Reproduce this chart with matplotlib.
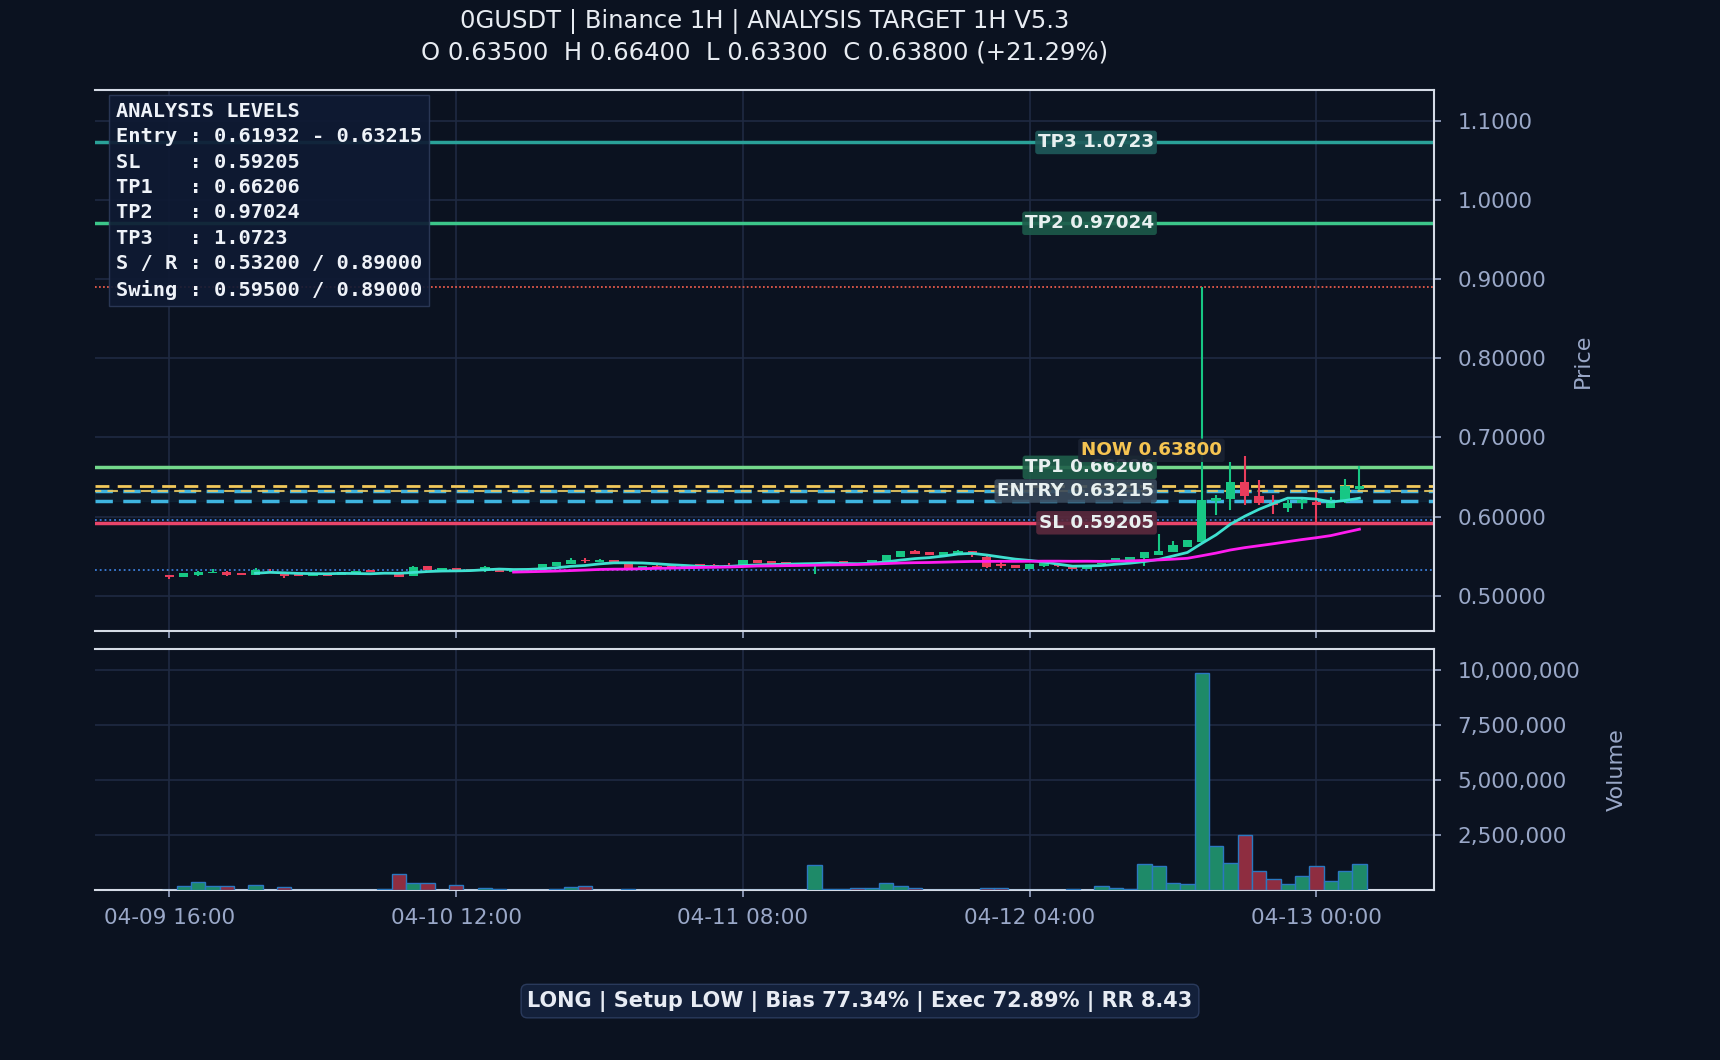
import numpy as np
import matplotlib
matplotlib.use('Agg')
import matplotlib.pyplot as plt
import pandas as pd
from matplotlib.ticker import FuncFormatter, MultipleLocator, FixedLocator

# --- data (hourly candles) ---
opens = [0.5262, 0.5240, 0.5262, 0.5287, 0.5300, 0.5287, 0.5266, 0.5325, 0.5275, 0.5275,
         0.5250, 0.5262, 0.5262, 0.5283, 0.5320, 0.5300, 0.5290, 0.5250, 0.5375, 0.5325,
         0.5345, 0.5340, 0.5320, 0.5330, 0.5305, 0.5320, 0.5350, 0.5375, 0.5400, 0.5447,
         0.5425, 0.5447, 0.5410, 0.5349, 0.5380, 0.5370, 0.5365, 0.5400, 0.5392, 0.5380,
         0.5388, 0.5451, 0.5438, 0.5425, 0.5400, 0.5390, 0.5400, 0.5434, 0.5395, 0.5409,
         0.5438, 0.5493, 0.5566, 0.5550, 0.5510, 0.5530, 0.5565, 0.5494, 0.5395, 0.5390,
         0.5336, 0.5370, 0.5390, 0.5370, 0.5336, 0.5400, 0.5430, 0.5425, 0.5482, 0.5514,
         0.5556, 0.5620, 0.5682, 0.6200, 0.6221, 0.6431, 0.6258, 0.6175, 0.6103, 0.6170,
         0.6180, 0.6111, 0.6180, 0.6350]
highs = [0.5265, 0.5290, 0.5312, 0.5338, 0.5317, 0.5290, 0.5350, 0.5340, 0.5277, 0.5277,
         0.5285, 0.5265, 0.5305, 0.5312, 0.5325, 0.5305, 0.5292, 0.5375, 0.5380, 0.5348,
         0.5355, 0.5343, 0.5380, 0.5335, 0.5325, 0.5345, 0.5400, 0.5428, 0.5480, 0.5475,
         0.5463, 0.5450, 0.5412, 0.5378, 0.5400, 0.5375, 0.5372, 0.5402, 0.5395, 0.5413,
         0.5453, 0.5453, 0.5440, 0.5428, 0.5408, 0.5405, 0.5428, 0.5437, 0.5397, 0.5453,
         0.5516, 0.5566, 0.5580, 0.5553, 0.5553, 0.5580, 0.5567, 0.5496, 0.5430, 0.5392,
         0.5397, 0.5412, 0.5392, 0.5372, 0.5392, 0.5412, 0.5473, 0.5492, 0.5552, 0.5775,
         0.5690, 0.5702, 0.8900, 0.6270, 0.6694, 0.6760, 0.6456, 0.6270, 0.6205, 0.6240,
         0.6304, 0.6240, 0.6477, 0.6640]
lows = [0.5215, 0.5238, 0.5254, 0.5285, 0.5254, 0.5264, 0.5264, 0.5315, 0.5220, 0.5248,
        0.5248, 0.5245, 0.5260, 0.5280, 0.5298, 0.5290, 0.5230, 0.5248, 0.5328, 0.5322,
        0.5322, 0.5322, 0.5300, 0.5300, 0.5300, 0.5315, 0.5348, 0.5372, 0.5398, 0.5413,
        0.5423, 0.5411, 0.5343, 0.5347, 0.5353, 0.5360, 0.5360, 0.5373, 0.5373, 0.5373,
        0.5386, 0.5407, 0.5398, 0.5398, 0.5398, 0.5280, 0.5398, 0.5403, 0.5388, 0.5407,
        0.5436, 0.5491, 0.5528, 0.5508, 0.5508, 0.5528, 0.5490, 0.5346, 0.5346, 0.5348,
        0.5334, 0.5368, 0.5368, 0.5334, 0.5334, 0.5398, 0.5428, 0.5423, 0.5380, 0.5512,
        0.5554, 0.5618, 0.5660, 0.6020, 0.6085, 0.6149, 0.6141, 0.6030, 0.6060, 0.6100,
        0.5920, 0.6105, 0.6170, 0.6330]
closes = [0.5240, 0.5287, 0.5304, 0.5300, 0.5262, 0.5266, 0.5325, 0.5320, 0.5245, 0.5250,
          0.5283, 0.5250, 0.5300, 0.5310, 0.5300, 0.5295, 0.5240, 0.5360, 0.5330, 0.5345,
          0.5325, 0.5325, 0.5363, 0.5305, 0.5320, 0.5340, 0.5395, 0.5425, 0.5451, 0.5434,
          0.5447, 0.5413, 0.5345, 0.5375, 0.5355, 0.5365, 0.5370, 0.5375, 0.5375, 0.5375,
          0.5451, 0.5409, 0.5400, 0.5400, 0.5405, 0.5400, 0.5425, 0.5405, 0.5390, 0.5451,
          0.5514, 0.5564, 0.5530, 0.5510, 0.5550, 0.5565, 0.5510, 0.5367, 0.5380, 0.5350,
          0.5395, 0.5410, 0.5370, 0.5336, 0.5390, 0.5410, 0.5471, 0.5490, 0.5550, 0.5560,
          0.5640, 0.5700, 0.6208, 0.6230, 0.6431, 0.6254, 0.6174, 0.6150, 0.6174, 0.6205,
          0.6150, 0.6174, 0.6384, 0.6380]
# volume in millions
volumes_m = [0.01, 0.18, 0.36, 0.18, 0.18, 0.01, 0.24, 0.02, 0.14, 0.01,
             0.005, 0.005, 0.005, 0.005, 0.01, 0.05, 0.73, 0.32, 0.32, 0.005,
             0.23, 0.01, 0.09, 0.05, 0.01, 0.005, 0.02, 0.05, 0.14, 0.18,
             0.005, 0.01, 0.05, 0.01, 0.01, 0.01, 0.01, 0.01, 0.01, 0.01,
             0.02, 0.02, 0.02, 0.005, 0.005, 1.14, 0.03, 0.03, 0.09, 0.09,
             0.32, 0.20, 0.09, 0.005, 0.02, 0.02, 0.01, 0.09, 0.09, 0.005,
             0.005, 0.01, 0.02, 0.05, 0.005, 0.18, 0.09, 0.05, 1.19, 1.09,
             0.32, 0.27, 9.89, 2.00, 1.23, 2.51, 0.85, 0.50, 0.27, 0.65,
             1.09, 0.41, 0.88, 1.19]

start_time = '2025-04-09 16:00'

# analysis levels
entry_low = 0.61932
entry_high = 0.63215
sl = 0.59205
tp1 = 0.66206
tp2 = 0.97024
tp3 = 1.0723
support = 0.532
resistance = 0.89
swing_low = 0.595
swing_high = 0.89
now_price = 0.638

title_line1 = '0GUSDT | Binance 1H | ANALYSIS TARGET 1H V5.3'
title_line2 = 'O 0.63500  H 0.66400  L 0.63300  C 0.63800 (+21.29%)'
footer = 'LONG | Setup LOW | Bias 77.34% | Exec 72.89% | RR 8.43'

# --- colours ---
bg = '#0b1220'
grid_c = '#1f2a42'
tick_c = '#9aa8c8'
spine_c = '#d5dbe6'
up_c = '#17c784'
down_c = '#ea3d5c'

df = pd.DataFrame({'open': opens, 'high': highs, 'low': lows, 'close': closes,
                   'volume': np.array(volumes_m) * 1e6})
df['time'] = pd.date_range(start_time, periods=len(df), freq='h')
df['sma7'] = df['close'].rolling(7).mean()
df['sma25'] = df['close'].rolling(25).mean()
x = np.arange(len(df))
up = df['close'] >= df['open']

fig = plt.figure(figsize=(17.2, 10.6), dpi=100, facecolor=bg)
ax = fig.add_axes([0.0552, 0.4047, 0.7785, 0.5103], facecolor=bg)
axv = fig.add_axes([0.0552, 0.1604, 0.7785, 0.2273], facecolor=bg, sharex=ax)

# --- candles ---
ax.vlines(x, df['low'], df['high'], colors=np.where(up, up_c, down_c), linewidth=1.5, zorder=3)
body_bottom = np.minimum(df['open'], df['close'])
body_height = np.maximum((df['close'] - df['open']).abs(), 0.0007)
ax.bar(x, body_height, bottom=body_bottom, width=0.65, color=np.where(up, up_c, down_c),
       linewidth=0, zorder=4)

# moving averages
ax.plot(x, df['sma7'], color='#3fe0d0', linewidth=2, zorder=5)
ax.plot(x, df['sma25'], color='#ff1cf0', linewidth=2, zorder=5)

# --- levels ---
ax.axhspan(entry_low, entry_high, color='#3fb4e0', alpha=0.06, zorder=1)
ax.axhline(tp3, color='#2aa198', linewidth=2.5, zorder=2)
ax.axhline(tp2, color='#3cc68a', linewidth=2.5, zorder=2)
ax.axhline(tp1, color='#74d88c', linewidth=2.5, zorder=2)
ax.axhline(entry_low, color='#3fb4e0', linewidth=2.5, linestyle=(0, (5, 3)), zorder=2)
ax.axhline(entry_high, color='#3fb4e0', linewidth=2.5, linestyle=(0, (5, 3)), zorder=2)
ax.axhline(entry_high, color='#e8c860', linewidth=1.5, linestyle=(2, (5, 3)), alpha=0.9, zorder=2)
ax.axhline(now_price, color='#f2c85b', linewidth=2, linestyle=(0, (5, 3)), zorder=2)
ax.axhline(sl, color='#e8456a', linewidth=2.5, zorder=2)
ax.axhline(support, color='#3b7dd8', linewidth=1.3, linestyle=':', zorder=2)
ax.axhline(swing_low, color='#3b7dd8', linewidth=1.3, linestyle=':', zorder=2)
ax.axhline(resistance, color='#e0584a', linewidth=1.1, linestyle=':', zorder=2)
ax.axhline(swing_high, color='#e0584a', linewidth=1.1, linestyle=':', zorder=2)

# level labels
trans = ax.get_yaxis_transform()
lx = 0.791
labels = [(tp3, f'TP3 {tp3:.4f}', '#1e5a5a'),
          (tp2, f'TP2 {tp2:.5f}', '#1c5a4a'),
          (tp1, f'TP1 {tp1:.5f}', '#1f5e4a'),
          (entry_high, f'ENTRY {entry_high:.5f}', '#3a4a5c'),
          (sl, f'SL {sl:.5f}', '#5c2a3e')]
for val, txt, fc in labels:
    ax.text(lx, val, txt, transform=trans, ha='right', va='center', color='#e8f0f0',
            fontsize=13.2, fontweight='bold', zorder=8,
            bbox=dict(boxstyle='round,pad=0.15', facecolor=fc, edgecolor='none', alpha=0.9))
ax.annotate(f'NOW {now_price:.5f}', xy=(lx - 0.002, now_price), xycoords=trans,
            xytext=(0, 26), textcoords='offset points', ha='center', va='center',
            color='#f5c451', fontsize=13.2, fontweight='bold', zorder=8,
            bbox=dict(boxstyle='round,pad=0.15', facecolor='#1a2232', edgecolor='none', alpha=0.9))

# analysis box
info = ('ANALYSIS LEVELS\n'
        f'Entry : {entry_low:.5f} - {entry_high:.5f}\n'
        f'SL    : {sl:.5f}\n'
        f'TP1   : {tp1:.5f}\n'
        f'TP2   : {tp2:.5f}\n'
        f'TP3   : {tp3:.4f}\n'
        f'S / R : {support:.5f} / {resistance:.5f}\n'
        f'Swing : {swing_low:.5f} / {swing_high:.5f}')
ax.text(0.0155, 0.978, info, transform=ax.transAxes, ha='left', va='top',
        family='DejaVu Sans Mono', fontweight='bold', fontsize=14.7, color='#eef2f8',
        linespacing=1.42, zorder=9,
        bbox=dict(boxstyle='square,pad=0.33', facecolor='#0f1a33', edgecolor='#2c3a58', alpha=0.92))

# --- volume ---
axv.bar(x, df['volume'], width=1.0, color=np.where(up, '#1e8a68', '#8e2d40'),
        edgecolor='#2a78c0', linewidth=1, zorder=3)

# --- axes styling ---
lo = min(df['low'].min(), support)
hi = max(df['high'].max(), tp3)
rng = hi - lo
ax.set_ylim(lo - 0.12 * rng, hi + 0.12 * rng)
ax.set_xlim(-5.2, len(df) + 4.2)
axv.set_ylim(0, df['volume'].max() * 1.108)

ax.yaxis.set_major_locator(MultipleLocator(0.1))
ax.yaxis.set_major_formatter(FuncFormatter(lambda v, p: f'{v:.4f}' if v >= 1 else f'{v:.5f}'))
axv.yaxis.set_major_locator(FixedLocator([2.5e6, 5e6, 7.5e6, 1e7]))
axv.yaxis.set_major_formatter(FuncFormatter(lambda v, p: f'{v:,.0f}'))

tick_pos = x[::20]
axv.set_xticks(tick_pos)
axv.set_xticklabels(df['time'].iloc[tick_pos].dt.strftime('%m-%d %H:%M'))
ax.tick_params(labelbottom=False)

for a in (ax, axv):
    a.yaxis.tick_right()
    a.yaxis.set_label_position('right')
    a.tick_params(colors=tick_c, labelsize=15.5, length=5, width=1.2)
    a.tick_params(axis='y', pad=12)
    a.tick_params(axis='x', pad=8)
    a.grid(True, color=grid_c, linewidth=1.2, zorder=0)
    a.set_axisbelow(True)
    a.spines['left'].set_visible(False)
    for s in ('top', 'bottom', 'right'):
        a.spines[s].set_color(spine_c)
        a.spines[s].set_linewidth(1.5)

ax.set_ylabel('Price', color=tick_c, fontsize=16, labelpad=19)
axv.set_ylabel('Volume', color=tick_c, fontsize=16, labelpad=19)

ax.set_title(title_line1 + '\n' + title_line2, color='#e8ecf2', fontsize=17.5,
             linespacing=1.35, pad=22)

fig.text(0.5, 0.0556, footer, ha='center', va='center', color='#e8ecf4',
         fontsize=15, fontweight='bold',
         bbox=dict(boxstyle='round,pad=0.3', facecolor='#13203a', edgecolor='#2a3a5c'))

fig.savefig('out.png', dpi=100, facecolor=bg)
